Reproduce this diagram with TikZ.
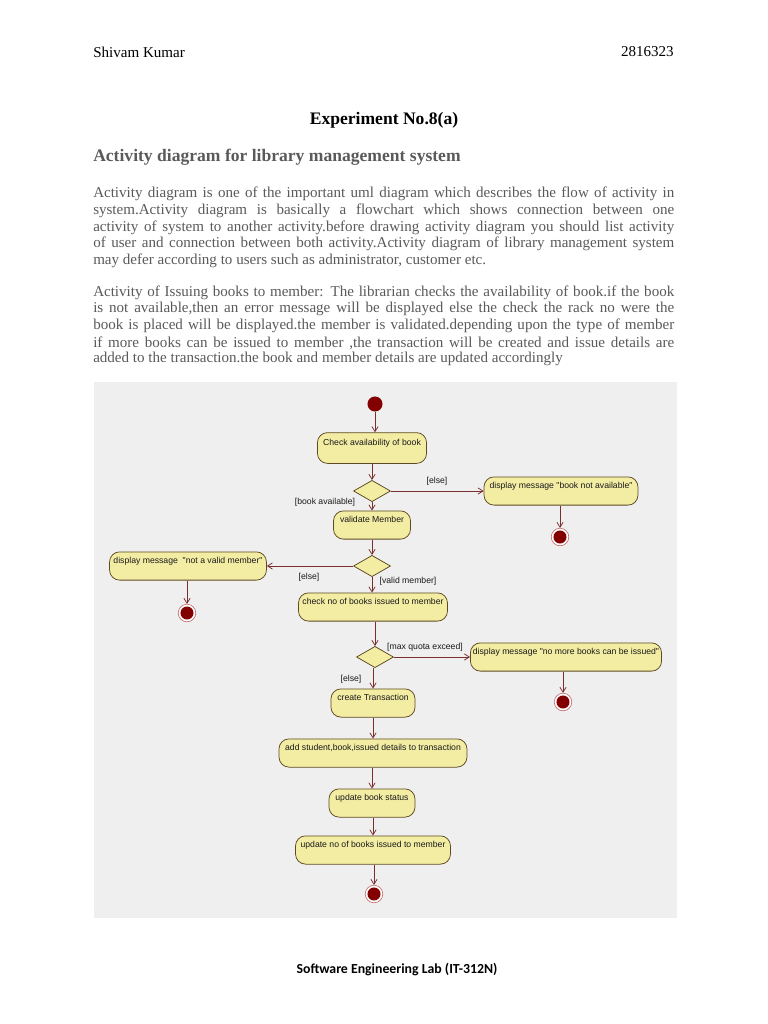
\documentclass[tikz,border=0pt]{standalone}
\usepackage{fontspec}
\setmainfont{Liberation Serif}
\newfontfamily\diafont{Liberation Sans}
\newfontfamily\footfont{Carlito}
\usetikzlibrary{shapes.geometric,arrows.meta}
\definecolor{bodygray}{HTML}{5A5A5A}
\definecolor{bggray}{HTML}{EFEFEF}
\definecolor{yel}{HTML}{F3EDA4}
\definecolor{brd}{HTML}{5E4A22}
\definecolor{flowline}{HTML}{7A2E2E}
\definecolor{dotred}{HTML}{820000}
\definecolor{ringred}{HTML}{C46A6A}
\begin{document}
\begin{tikzpicture}[x=0.796875pt,y=-0.796875pt,
  act/.style={draw=brd, fill=yel, line width=0.6pt, rounded corners=8pt,
    minimum height=22.5pt, inner xsep=2pt, inner ysep=0pt,
    text height=3pt, text depth=7pt, font=\diafont\fontsize{6.9}{8}\selectfont, text=black!90},
  decision/.style={draw=brd, fill=yel, line width=0.6pt, diamond, inner sep=0pt,
    minimum width=29.5pt, minimum height=17pt},
  startdot/.style={circle, fill=dotred, minimum size=12pt, inner sep=0pt},
  enddot/.style={circle, draw=ringred, fill=white, line width=0.5pt, minimum size=14pt, inner sep=0pt},
  flow/.style={draw=flowline, line width=0.6pt, -{Straight Barb[length=4pt,width=5pt]}},
  guard/.style={font=\diafont\fontsize{6.9}{8}\selectfont, text=black!90, inner sep=1pt},
  bodyline/.style={anchor=west, inner sep=0pt, text=bodygray, font=\rmfamily\fontsize{12}{13.4}\selectfont},
]
\useasboundingbox (0,0) rectangle (768,1024);
\fill[white] (0,0) rectangle (768,1024);

% header
\node[anchor=west, inner sep=0pt, font=\rmfamily\fontsize{12}{14}\selectfont] (author) at (93,52) {Shivam Kumar};
\node[anchor=east, inner sep=0pt, font=\rmfamily\fontsize{12}{14}\selectfont] (roll) at (674,52) {2816323};

% titles
\node[inner sep=0pt, font=\rmfamily\bfseries\fontsize{14}{16}\selectfont] (exp) at (384,120) {Experiment No.8(a)};
\node[anchor=west, inner sep=0pt, text=bodygray, font=\rmfamily\bfseries\fontsize{14}{16}\selectfont] (head) at (93,157) {Activity diagram for library management system};

% paragraph 1
\node[bodyline] (p1a) at (93,194) {\makebox[463pt][s]{Activity diagram is one of the important uml diagram which describes the flow of activity in}};
\node[bodyline] (p1b) at (93,211) {\makebox[463pt][s]{system.Activity diagram is basically a flowchart which shows connection between one}};
\node[bodyline] (p1c) at (93,228) {\makebox[463pt][s]{activity of system to another activity.before drawing activity diagram you should list activity}};
\node[bodyline] (p1d) at (93,244) {\makebox[463pt][s]{of user and connection between both activity.Activity diagram of library management system}};
\node[bodyline] (p1e) at (93,261) {may defer according to users such as administrator, customer etc.};

% paragraph 2
\node[bodyline] (p2a) at (93,293) {\makebox[463pt][s]{Activity of Issuing books to member: The librarian checks the availability of book.if the book}};
\node[bodyline] (p2b) at (93,309) {\makebox[463pt][s]{is not available,then an error message will be displayed else the check the rack no were the}};
\node[bodyline] (p2c) at (93,326) {\makebox[463pt][s]{book is placed will be displayed.the member is validated.depending upon the type of member}};
\node[bodyline] (p2d) at (93,343) {\makebox[463pt][s]{if more books can be issued to member ,the transaction will be created and issue details are}};
\node[bodyline] (p2e) at (93,359) {added to the transaction.the book and member details are updated accordingly};

% diagram background
\fill[bggray] (94,382) rectangle (677,918);

% nodes
\node[startdot] (start) at (375,404) {};
\node[act, minimum width=87pt, minimum height=24.5pt] (check) at (372,448) {Check availability of book};
\node[decision] (d1) at (372,491) {};
\node[act, minimum width=122.7pt] (notavail) at (561,491) {display message "book not available"};
\node[enddot] (e1) at (560,537) {};
\node[act, minimum width=61.4pt] (validate) at (372,525) {validate Member};
\node[decision] (d2) at (372,566) {};
\node[act, minimum width=125pt] (notvalid) at (188,566) {display message \ "not a valid member"};
\node[enddot] (e2) at (187,613) {};
\node[act, minimum width=118.7pt] (checkno) at (373,607) {check no of books issued to member};
\node[decision] (d3) at (375,657) {};
\node[act, minimum width=152.2pt] (nomore) at (566,657) {display message "no more books can be issued"};
\node[enddot] (e3) at (563,702) {};
\node[act, minimum width=67pt] (create) at (373,703) {create Transaction};
\node[act, minimum width=149.8pt] (add) at (373,753) {add student,book,issued details to transaction};
\node[act, minimum width=68.5pt] (updbook) at (372,803) {update book status};
\node[act, minimum width=123.5pt] (updno) at (373,850) {update no of books issued to member};
\node[enddot] (e4) at (374,894) {};

% end dots inner fill
\foreach \e in {e1,e2,e3,e4} \fill[dotred] (\e) circle (5.2pt);

% connectors
\draw[flow] (start.south) -- (start.south |- check.north);
\draw[flow] (check.south -| d1.north) -- (d1.north);
\draw[flow] (d1.south) -- (d1.south |- validate.north);
\draw[flow] (d1.east) -- (notavail.west);
\draw[flow] (notavail.south -| e1.north) -- (e1.north);
\draw[flow] (validate.south -| d2.north) -- (d2.north);
\draw[flow] (d2.west) -- (notvalid.east);
\draw[flow] (notvalid.south -| e2.north) -- (e2.north);
\draw[flow] (d2.south) -- (d2.south |- checkno.north);
\draw[flow] (checkno.south -| d3.north) -- (d3.north);
\draw[flow] (d3.east) -- (nomore.west);
\draw[flow] (nomore.south -| e3.north) -- (e3.north);
\draw[flow] (d3.south -| create.north) -- (create.north);
\draw[flow] (create.south -| add.north) -- (add.north);
\draw[flow] (add.south -| updbook.north) -- (updbook.north);
\draw[flow] (updbook.south -| updno.north) -- (updno.north);
\draw[flow] (updno.south -| e4.north) -- (e4.north);

% guards
\node[guard] (g1) at (437,481) {[else]};
\node[guard] (g2) at (325,502) {[book available]};
\node[guard] (g3) at (309,577) {[else]};
\node[guard] (g4) at (408,581) {[valid member]};
\node[guard] (g5) at (425,647) {[max quota exceed]};
\node[guard] (g6) at (351,679) {[else]};

% footer
\node[inner sep=0pt, font=\footfont\bfseries\fontsize{11}{13}\selectfont] (foot) at (397,970) {Software Engineering Lab (IT-312N)};
\end{tikzpicture}
\end{document}
